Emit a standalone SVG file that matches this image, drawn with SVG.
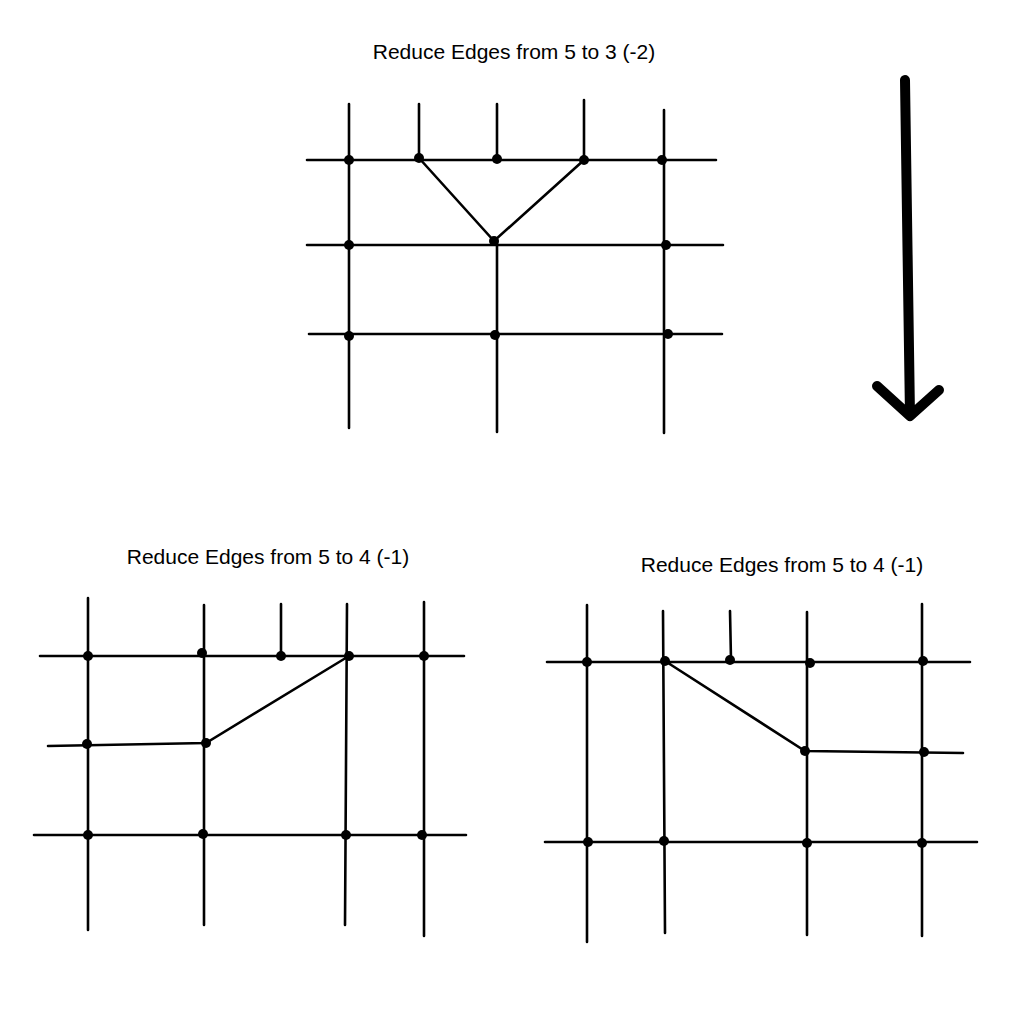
<svg xmlns="http://www.w3.org/2000/svg" width="1024" height="1024" viewBox="0 0 1024 1024">
<style>
.l{stroke:#000;stroke-width:2.6;fill:none;stroke-linecap:round}
.d{fill:#000}
text{font-family:"Liberation Sans",Arial,sans-serif;font-size:21px;fill:#000;text-anchor:middle}
</style>
<rect width="1024" height="1024" fill="#fff"/>
<g id="top">
<text x="514" y="59">Reduce Edges from 5 to 3 (-2)</text>
<g id="top-edges" class="l">
<path d="M307 160H716M307 245H723M309 334H722"/>
<path d="M349 104V428M419 104V158M497 104V160M497 241V432M584 100V160M664 110V433"/>
<path d="M419 158L494 241L584 160"/>
</g>
<g id="top-nodes" class="d">
<circle cx="349" cy="160" r="5"/><circle cx="419" cy="158" r="5"/><circle cx="497" cy="159" r="5"/><circle cx="584" cy="160" r="5"/><circle cx="662" cy="160" r="5"/>
<circle cx="349" cy="245" r="5"/><circle cx="494" cy="241" r="5"/><circle cx="666" cy="245" r="5"/>
<circle cx="349" cy="336" r="5"/><circle cx="495" cy="335" r="5"/><circle cx="668" cy="334" r="5"/>
</g>
</g>
<g id="arrow">
<path d="M905 80L910 416M877 386L910 416L939 390" stroke="#000" stroke-width="10" fill="none" stroke-linecap="round" stroke-linejoin="round"/>
</g>
<g id="left">
<text x="268" y="564">Reduce Edges from 5 to 4 (-1)</text>
<g id="left-edges" class="l">
<path d="M40 656H464M34 835H466M48 746L206 743L349 656"/>
<path d="M88 598V930M204 605V925M281 604L281 656M347 604L345 925M424 602V936"/>
</g>
<g id="left-nodes" class="d">
<circle cx="88" cy="656" r="5"/><circle cx="202" cy="653" r="5"/><circle cx="281" cy="656" r="5"/><circle cx="349" cy="656" r="5"/><circle cx="424" cy="656" r="5"/>
<circle cx="87" cy="744" r="5"/><circle cx="206" cy="743" r="5"/>
<circle cx="88" cy="835" r="5"/><circle cx="203" cy="834" r="5"/><circle cx="346" cy="835" r="5"/><circle cx="422" cy="835" r="5"/>
</g>
</g>
<g id="right">
<text x="782" y="572">Reduce Edges from 5 to 4 (-1)</text>
<g id="right-edges" class="l">
<path d="M547 662H970M545 842H977M665 661L805 751L963 753"/>
<path d="M587 605V942M663 611L665 933M730 611L731 660M807 612V935M922 604V936"/>
</g>
<g id="right-nodes" class="d">
<circle cx="587" cy="662" r="5"/><circle cx="665" cy="661" r="5"/><circle cx="730" cy="660" r="5"/><circle cx="810" cy="663" r="5"/><circle cx="923" cy="661" r="5"/>
<circle cx="805" cy="751" r="5"/><circle cx="924" cy="752" r="5"/>
<circle cx="588" cy="842" r="5"/><circle cx="664" cy="841" r="5"/><circle cx="807" cy="843" r="5"/><circle cx="922" cy="843" r="5"/>
</g>
</g>
</svg>
